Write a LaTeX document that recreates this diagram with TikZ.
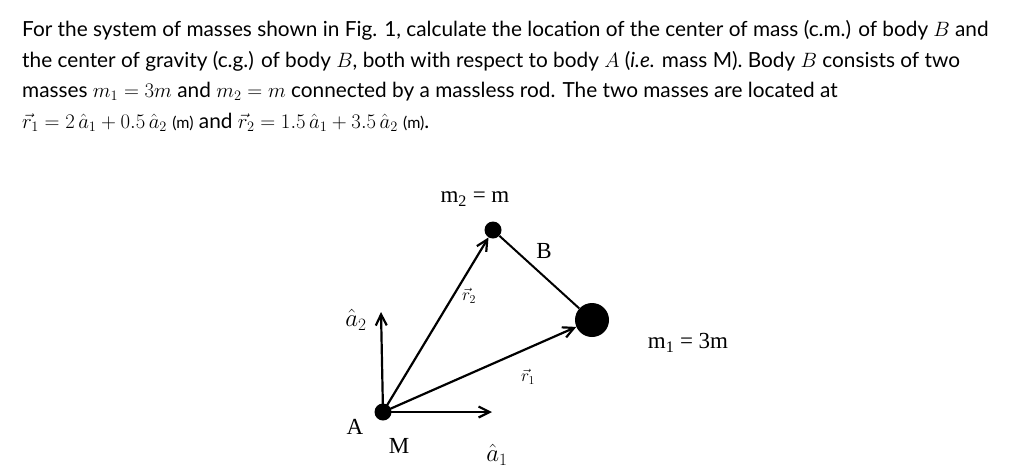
\documentclass[tikz,border=0pt]{standalone}
\usepackage{amsmath}
\usepackage{fontspec}
\setmainfont{Lato}
\newfontfamily\figfont{Liberation Serif}
\usetikzlibrary{arrows.meta}
\begin{document}
\begin{tikzpicture}[x=1pt,y=-1pt,
  txt/.style={anchor=base west,inner sep=0pt,font=\fontsize{20.8}{24}\selectfont},
  lab/.style={inner sep=0pt,font=\figfont\fontsize{23}{27}\selectfont},
  vec/.style={line width=2.2pt,-{Straight Barb[length=11pt,width=11pt,line width=2.2pt]}},
  dot/.style={circle,fill=black,inner sep=0pt}]
\useasboundingbox (0,0) rectangle (1024,475);
\node[txt] (l1) at (22,36) {For the system of masses shown in Fig. 1, calculate the location of the center of mass (c.m.) of body $B$ and};
\node[txt] (l2) at (22,67) {the center of gravity (c.g.) of body $B$, both with respect to body $A$ (\textit{i.e.} mass M). Body $B$ consists of two};
\node[txt] (l3) at (22,97) {masses $m_1=3m$ and $m_2=m$ connected by a massless rod. The two masses are located at};
\node[txt] (l4) at (22,128) {$\vec r_1 = 2\,\hat a_1+0.5\,\hat a_2$ {\fontsize{16}{18}\selectfont(m)} and $\vec r_2=1.5\,\hat a_1+3.5\,\hat a_2$ {\fontsize{16}{18}\selectfont(m)}.};
\node[dot,minimum size=17pt] (A) at (383,412) {};
\node[dot,minimum size=17pt] (m2) at (493,230) {};
\node[dot,minimum size=34pt] (m1) at (592,320) {};
\coordinate (a2e) at (381,312);
\coordinate (a1e) at (492,412);
\draw[line width=2pt] (m2) -- (m1);
\draw[vec] (A.center) -- (a2e);
\draw[vec] (A.center) -- (a1e);
\draw[vec] (A.center) -- (m2);
\draw[vec] (A.center) -- (m1);
\node[lab] (ta2) at (356,320) {$\hat a_2$};
\node[lab] (ta1) at (497,455) {$\hat a_1$};
\node[lab] (tA) at (355,427) {A};
\node[lab] (tM) at (399,446) {M};
\node[lab] (tB) at (544,251) {B};
\node[lab] (tm2) at (475,199) {m\textsubscript{2} = m};
\node[lab] (tm1) at (688,343) {m\textsubscript{1} = 3m};
\node[lab,font=\fontsize{18}{20}\selectfont] (tr2) at (469,296) {$\vec r_2$};
\node[lab,font=\fontsize{18}{20}\selectfont] (tr1) at (528,377) {$\vec r_1$};
\end{tikzpicture}
\end{document}
